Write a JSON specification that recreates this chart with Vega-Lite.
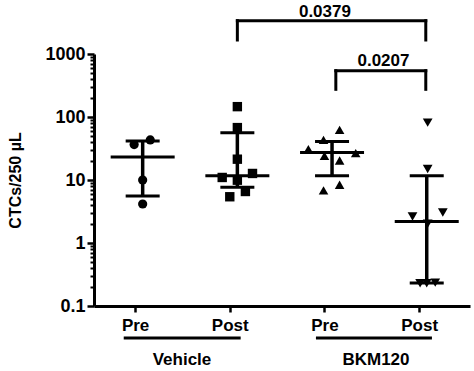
{
  "$schema": "https://vega.github.io/schema/vega-lite/v6.json",
  "width": 376,
  "height": 252,
  "autosize": {"type": "none"},
  "padding": {"left": 94, "top": 54, "right": 4, "bottom": 65},
  "background": "white",
  "config": {"view": {"stroke": null}, "font": "Liberation Sans"},
  "datasets": {
    "points": [
      {"group": "Vehicle Pre", "pos": 0.91, "value": 36.5},
      {"group": "Vehicle Pre", "pos": 1.08, "value": 43.2},
      {"group": "Vehicle Pre", "pos": 1.0, "value": 10.0},
      {"group": "Vehicle Pre", "pos": 1.0, "value": 4.16},
      {"group": "Vehicle Post", "pos": 2.0, "value": 146},
      {"group": "Vehicle Post", "pos": 2.0, "value": 67.9},
      {"group": "Vehicle Post", "pos": 2.0, "value": 21.4},
      {"group": "Vehicle Post", "pos": 1.84, "value": 10.97},
      {"group": "Vehicle Post", "pos": 2.16, "value": 12.7},
      {"group": "Vehicle Post", "pos": 2.0, "value": 9.93},
      {"group": "Vehicle Post", "pos": 2.085, "value": 6.57},
      {"group": "Vehicle Post", "pos": 1.92, "value": 5.42},
      {"group": "BKM120 Pre", "pos": 3.08, "value": 62.5},
      {"group": "BKM120 Pre", "pos": 2.91, "value": 43.4},
      {"group": "BKM120 Pre", "pos": 2.75, "value": 30.9},
      {"group": "BKM120 Pre", "pos": 3.25, "value": 26.7},
      {"group": "BKM120 Pre", "pos": 2.92, "value": 24.2},
      {"group": "BKM120 Pre", "pos": 3.08, "value": 20.4},
      {"group": "BKM120 Pre", "pos": 3.08, "value": 8.4},
      {"group": "BKM120 Pre", "pos": 2.91, "value": 6.82},
      {"group": "BKM120 Post", "pos": 4.01, "value": 81.5},
      {"group": "BKM120 Post", "pos": 4.01, "value": 14.9},
      {"group": "BKM120 Post", "pos": 3.85, "value": 2.64},
      {"group": "BKM120 Post", "pos": 4.17, "value": 3.05},
      {"group": "BKM120 Post", "pos": 4.01, "value": 2.02},
      {"group": "BKM120 Post", "pos": 3.93, "value": 0.23},
      {"group": "BKM120 Post", "pos": 4.0, "value": 0.23},
      {"group": "BKM120 Post", "pos": 4.09, "value": 0.235}
    ],
    "summary": [
      {"group": "Vehicle Pre", "pos": 1, "median": 23.2, "q1": 5.57, "q3": 41.6},
      {"group": "Vehicle Post", "pos": 2, "median": 11.7, "q1": 7.66, "q3": 56.4},
      {"group": "BKM120 Pre", "pos": 3, "median": 27.3, "q1": 11.7, "q3": 40.7},
      {"group": "BKM120 Post", "pos": 4, "median": 2.2, "q1": 0.232, "q3": 11.7}
    ],
    "brackets": [
      {"x": 2.0, "x2": 2.0, "y": 1668, "y2": 3380},
      {"x": 2.0, "x2": 3.99, "y": 3380, "y2": 3380},
      {"x": 3.99, "x2": 3.99, "y": 3380, "y2": 1668},
      {"x": 3.04, "x2": 3.04, "y": 275, "y2": 543},
      {"x": 3.04, "x2": 3.99, "y": 543, "y2": 543},
      {"x": 3.99, "x2": 3.99, "y": 543, "y2": 275}
    ],
    "pvals": [
      {"x": 2.925, "y": 3830, "label": "0.0379"},
      {"x": 3.543, "y": 646, "label": "0.0207"}
    ],
    "underlines": [
      {"x": 0.80, "x2": 2.035, "y": 0.031},
      {"x": 2.83, "x2": 4.055, "y": 0.031}
    ],
    "groups": [
      {"x": 1.415, "y": 0.0139, "label": "Vehicle"},
      {"x": 3.464, "y": 0.0139, "label": "BKM120"}
    ]
  },
  "layer": [
    {
      "data": {"name": "points"},
      "mark": {"type": "point", "filled": true, "color": "black", "opacity": 1},
      "encoding": {
        "x": {
          "field": "pos", "type": "quantitative",
          "scale": {"domain": [0.486, 4.457], "nice": false, "zero": false},
          "axis": {
            "values": [0.92, 1.92, 2.92, 3.92],
            "labelExpr": "['Pre','Post','Pre','Post'][round(datum.value)-1]",
            "title": null, "grid": false,
            "domainWidth": 3, "domainColor": "black",
            "tickColor": "black", "tickWidth": 2.5, "tickSize": 6,
            "labelFont": "Liberation Sans", "labelFontWeight": "bold", "labelFontSize": 17,
            "labelColor": "black", "labelPadding": 5, "labelFlush": false, "labelOverlap": false
          }
        },
        "y": {
          "field": "value", "type": "quantitative",
          "scale": {"type": "log", "domain": [0.1, 1000], "nice": false},
          "axis": {
            "values": [0.1,0.2,0.3,0.4,0.5,0.6,0.7,0.8,0.9,1,2,3,4,5,6,7,8,9,10,20,30,40,50,60,70,80,90,100,200,300,400,500,600,700,800,900,1000],
            "labelExpr": "indexof([0.1,1,10,100,1000], datum.value) >= 0 ? format(datum.value, '~g') : ''",
            "title": "CTCs/250 µL",
            "titleFont": "Liberation Sans", "titleFontSize": 16, "titleFontWeight": "bold", "titleColor": "black",
            "titleX": -79, "titleY": 126, "titleAngle": 270, "titleAlign": "center", "titleBaseline": "middle",
            "grid": false,
            "domainWidth": 3, "domainColor": "black",
            "tickColor": "black",
            "tickWidth": {"condition": {"test": "indexof([0.1,1,10,100,1000], datum.value) >= 0", "value": 2.5}, "value": 2},
            "tickSize": {"condition": {"test": "indexof([0.1,1,10,100,1000], datum.value) >= 0", "value": 7}, "value": 4},
            "labelFont": "Liberation Sans", "labelFontWeight": "bold", "labelFontSize": 18,
            "labelColor": "black", "labelPadding": 2, "labelOverlap": false, "labelFlush": false
          }
        },
        "shape": {
          "field": "group", "type": "nominal",
          "scale": {"domain": ["Vehicle Pre", "Vehicle Post", "BKM120 Pre", "BKM120 Post"], "range": ["circle", "square", "triangle-up", "triangle-down"]},
          "legend": null
        },
        "size": {
          "field": "group", "type": "nominal",
          "scale": {"domain": ["Vehicle Pre", "Vehicle Post", "BKM120 Pre", "BKM120 Post"], "range": [85, 95, 115, 115]},
          "legend": null
        }
      }
    },
    {
      "data": {"name": "summary"},
      "mark": {"type": "rule", "color": "black", "strokeWidth": 3.5},
      "encoding": {
        "x": {"field": "pos", "type": "quantitative"},
        "y": {"field": "q1", "type": "quantitative"},
        "y2": {"field": "q3"}
      }
    },
    {
      "data": {"name": "summary"},
      "mark": {"type": "tick", "orient": "horizontal", "color": "black", "size": 64, "thickness": 3, "opacity": 1},
      "encoding": {
        "x": {"field": "pos", "type": "quantitative"},
        "y": {"field": "median", "type": "quantitative"}
      }
    },
    {
      "data": {"name": "summary"},
      "mark": {"type": "tick", "orient": "horizontal", "color": "black", "size": 34, "thickness": 3, "opacity": 1},
      "encoding": {
        "x": {"field": "pos", "type": "quantitative"},
        "y": {"field": "q3", "type": "quantitative"}
      }
    },
    {
      "data": {"name": "summary"},
      "mark": {"type": "tick", "orient": "horizontal", "color": "black", "size": 34, "thickness": 3, "opacity": 1},
      "encoding": {
        "x": {"field": "pos", "type": "quantitative"},
        "y": {"field": "q1", "type": "quantitative"}
      }
    },
    {
      "data": {"name": "brackets"},
      "mark": {"type": "rule", "color": "black", "strokeWidth": 3, "strokeCap": "square"},
      "encoding": {
        "x": {"field": "x", "type": "quantitative"},
        "x2": {"field": "x2"},
        "y": {"field": "y", "type": "quantitative"},
        "y2": {"field": "y2"}
      }
    },
    {
      "data": {"name": "pvals"},
      "mark": {"type": "text", "color": "black", "font": "Liberation Sans", "fontSize": 17, "fontWeight": "bold", "align": "center", "baseline": "alphabetic"},
      "encoding": {
        "x": {"field": "x", "type": "quantitative"},
        "y": {"field": "y", "type": "quantitative"},
        "text": {"field": "label"}
      }
    },
    {
      "data": {"name": "underlines"},
      "mark": {"type": "rule", "color": "black", "strokeWidth": 3},
      "encoding": {
        "x": {"field": "x", "type": "quantitative"},
        "x2": {"field": "x2"},
        "y": {"field": "y", "type": "quantitative"}
      }
    },
    {
      "data": {"name": "groups"},
      "mark": {"type": "text", "color": "black", "font": "Liberation Sans", "fontSize": 17, "fontWeight": "bold", "align": "center", "baseline": "middle"},
      "encoding": {
        "x": {"field": "x", "type": "quantitative"},
        "y": {"field": "y", "type": "quantitative"},
        "text": {"field": "label"}
      }
    }
  ]
}
